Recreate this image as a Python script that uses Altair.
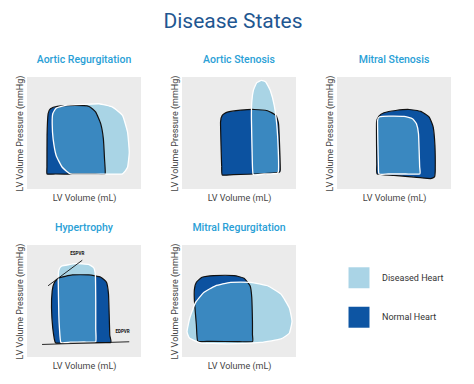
import altair as alt
import pandas as pd

# ---------------- data (LV volume, LV pressure; relative units 0-100) ----------------
# Aortic Regurgitation
ar_norm_v = [17.6, 17.5, 17.6, 18.5, 20.6, 26.5, 42.6, 54.4, 60.3, 64.7, 67.0, 68.0, 68.5, 60.0, 40.0, 25.0]
ar_norm_p = [13.4, 20.0, 47.8, 67.2, 71.6, 73.7, 74.6, 73.7, 68.7, 58.2, 44.8, 26.9, 13.4, 13.3, 13.3, 13.4]
ar_dis_v = [38.2, 30.9, 25.6, 22.9, 22.1, 22.6, 25.6, 33.8, 48.5, 63.2, 75.0, 83.8, 88.2, 89.7, 88.2, 83.8, 72.0, 50.0]
ar_dis_p = [13.4, 19.4, 29.9, 44.8, 58.2, 67.2, 72.2, 74.6, 75.5, 76.1, 73.1, 65.7, 50.7, 32.8, 19.4, 13.6, 13.3, 13.3]

# Aortic Stenosis
as_norm_v = [35.3, 34.8, 34.4, 33.8, 35.3, 39.7, 51.5, 63.2, 75.0, 82.4, 84.7, 85.6, 86.2, 85.0, 70.0, 45.0]
as_norm_p = [12.5, 20.0, 32.8, 59.7, 65.7, 68.7, 70.4, 71.0, 69.9, 65.7, 58.2, 38.8, 17.0, 14.8, 13.6, 12.8]
as_dis_v = [62.4, 61.5, 60.9, 61.2, 62.6, 65.6, 69.7, 73.5, 77.4, 80.9, 83.2, 84.4, 84.7, 83.5, 72.0]
as_dis_p = [13.1, 32.8, 62.7, 77.6, 88.1, 94.9, 97.0, 95.5, 88.1, 74.6, 56.7, 35.8, 17.0, 14.0, 13.4]

# Mitral Stenosis
ms_norm_v = [35.3, 34.9, 34.7, 34.7, 36.8, 41.2, 51.5, 63.2, 73.5, 80.9, 84.4, 85.9, 86.2, 85.6, 82.0, 70.0, 50.0]
ms_norm_p = [13.4, 22.0, 38.8, 59.7, 65.1, 68.1, 70.1, 71.0, 69.3, 64.2, 55.2, 38.8, 17.9, 11.0, 9.3, 10.4, 12.2]
ms_dis_v = [36.8, 36.3, 35.9, 35.6, 37.4, 45.6, 58.8, 66.2, 69.7, 71.5, 72.1, 72.5, 72.6, 60.0, 45.0]
ms_dis_p = [13.4, 22.0, 38.8, 61.2, 64.5, 65.1, 64.8, 62.7, 58.2, 49.3, 32.8, 20.0, 13.4, 13.4, 13.4]

# Hypertrophy
hy_norm_v = [25.0, 22.6, 21.5, 22.1, 24.1, 27.9, 39.7, 54.4, 64.7, 69.7, 71.5, 72.1, 72.6, 73.5, 60.0, 35.0]
hy_norm_p = [12.7, 25.8, 43.9, 59.1, 66.7, 70.6, 73.3, 73.3, 71.2, 66.7, 56.1, 37.9, 19.7, 13.0, 12.9, 12.8]
hy_dis_v = [29.7, 28.5, 27.9, 27.4, 27.9, 30.3, 42.6, 53.8, 58.5, 60.0, 60.3, 60.3, 60.3, 50.0, 38.0]
hy_dis_p = [13.0, 25.0, 37.9, 68.2, 77.3, 81.2, 83.3, 82.7, 79.7, 72.7, 50.0, 25.0, 13.6, 13.4, 13.2]
espvr_v = [18.5, 48.5]
espvr_p = [63.6, 86.4]
edpvr_v = [13.2, 89.7]
edpvr_p = [11.2, 13.6]
curve_labels = ["ESPVR", "EDPVR"]
curve_label_v = [44.1, 83.8]
curve_label_p = [92.4, 22.4]

# Mitral Regurgitation
mr_norm_v = [13.8, 12.6, 10.9, 10.9, 12.6, 17.6, 27.9, 45.6, 54.4, 59.7, 61.2, 61.8, 61.8, 61.8, 50.0, 25.0]
mr_norm_p = [14.2, 28.8, 50.0, 60.6, 66.7, 71.2, 72.7, 72.7, 70.3, 63.6, 53.0, 31.8, 20.0, 13.6, 13.7, 14.0]
mr_dis_v = [4.4, 6.8, 11.8, 19.1, 29.4, 42.6, 60.3, 75.0, 86.8, 94.1, 96.5, 94.1, 86.8, 69.1, 39.7, 16.2, 6.8]
mr_dis_p = [22.7, 34.8, 48.5, 57.6, 63.6, 66.7, 66.7, 63.6, 56.1, 43.9, 31.8, 21.2, 16.1, 13.0, 11.8, 12.7, 16.7]

legend_labels = ["Diseased Heart", "Normal Heart"]
legend_colors = ["#aad4e6", "#0d55a3"]

# ---------------- styling ----------------
DARK = "#0c52a0"
LIGHT = "#68bde0"
BG = "#ebebeb"
FONT = "Roboto"
W, H = 114, 112

xscale = alt.Scale(domain=[0, 100], nice=False, zero=False)
yscale = alt.Scale(domain=[0, 100], nice=False, zero=False)
xaxis = alt.Axis(title="LV Volume (mL)", labels=False, ticks=False, domain=False, grid=False,
                 titleFont=FONT, titleFontSize=9, titleFontWeight="normal", titleColor="#444",
                 titlePadding=4)
yaxis = alt.Axis(title="LV Volume Pressure (mmHg)", labels=False, ticks=False, domain=False, grid=False,
                 titleFont=FONT, titleFontSize=9, titleFontWeight="normal", titleColor="#444",
                 titlePadding=3)


def loop_df(vs, ps):
    return pd.DataFrame({"v": vs, "p": ps, "i": list(range(len(vs)))})


def enc(ch):
    return ch.encode(
        x=alt.X("v:Q", scale=xscale, axis=xaxis),
        y=alt.Y("p:Q", scale=yscale, axis=yaxis),
        order=alt.Order("i:Q"),
    )


def panel(title, nv, np_, dv, dp, extra=None):
    nd = loop_df(nv, np_)
    dd = loop_df(dv, dp)
    interp = dict(interpolate="cardinal-closed", tension=0.6)
    layers = [
        enc(alt.Chart(nd).mark_line(fill=DARK, strokeWidth=0, **interp)),
        enc(alt.Chart(dd).mark_line(fill=LIGHT, fillOpacity=0.5, strokeWidth=0, **interp)),
        enc(alt.Chart(nd).mark_line(stroke="#111111", strokeWidth=1.2, **interp)),
        enc(alt.Chart(dd).mark_line(stroke="white", strokeWidth=1.3, **interp)),
    ]
    if extra:
        layers += extra
    return alt.layer(*layers).properties(
        width=W, height=H,
        view=alt.ViewBackground(fill=BG, strokeWidth=0),
        title=alt.TitleParams(title, font=FONT, fontSize=10.5, fontWeight=500,
                              color="#2aa0d6", offset=10, anchor="middle"),
    )


hy_extra = [
    alt.Chart(pd.DataFrame({"v": espvr_v, "p": espvr_p, "i": [0, 1]})).mark_line(
        color="#111111", strokeWidth=0.9).encode(
        x=alt.X("v:Q", scale=xscale, axis=xaxis), y=alt.Y("p:Q", scale=yscale, axis=yaxis),
        order=alt.Order("i:Q")),
    alt.Chart(pd.DataFrame({"v": edpvr_v, "p": edpvr_p, "i": [0, 1]})).mark_line(
        color="#111111", strokeWidth=0.9).encode(
        x=alt.X("v:Q", scale=xscale, axis=xaxis), y=alt.Y("p:Q", scale=yscale, axis=yaxis),
        order=alt.Order("i:Q")),
    alt.Chart(pd.DataFrame({"t": curve_labels, "v": curve_label_v, "p": curve_label_p})).mark_text(
        font=FONT, fontSize=4.5, fontWeight="bold", color="#111111").encode(
        x=alt.X("v:Q", scale=xscale, axis=xaxis), y=alt.Y("p:Q", scale=yscale, axis=yaxis),
        text="t:N"),
]

p1 = panel("Aortic Regurgitation", ar_norm_v, ar_norm_p, ar_dis_v, ar_dis_p)
p2 = panel("Aortic Stenosis", as_norm_v, as_norm_p, as_dis_v, as_dis_p)
p3 = panel("Mitral Stenosis", ms_norm_v, ms_norm_p, ms_dis_v, ms_dis_p)
p4 = panel("Hypertrophy", hy_norm_v, hy_norm_p, hy_dis_v, hy_dis_p, hy_extra)
p5 = panel("Mitral Regurgitation", mr_norm_v, mr_norm_p, mr_dis_v, mr_dis_p)

leg_df = pd.DataFrame({"label": legend_labels, "color": legend_colors})
leg_y = alt.Y("label:N", scale=alt.Scale(type="point", domain=legend_labels, padding=0.83), axis=None)
legend = alt.layer(
    alt.Chart(leg_df).mark_square(size=440, opacity=1).encode(
        x=alt.value(22), y=leg_y,
        color=alt.Color("label:N", scale=alt.Scale(domain=legend_labels, range=legend_colors), legend=None)),
    alt.Chart(leg_df).mark_text(align="left", baseline="middle", font=FONT, fontSize=9, color="#333333").encode(
        x=alt.value(45), y=leg_y, text="label:N"),
).properties(width=W, height=105)

chart = alt.concat(
    p1, p2, p3, p4, p5, legend,
    columns=3, spacing=alt.RowColnumber(row=56, column=41), bounds="flush",
).properties(
    title=alt.TitleParams("Disease States", font=FONT, fontSize=21, fontWeight="normal",
                          color="#1f5791", anchor="middle", offset=23),
    padding={"left": 7, "top": 2, "right": 5, "bottom": 5},
).configure_view(strokeWidth=0)

chart.save("out.html", embed_options={"renderer": "svg", "actions": False})
